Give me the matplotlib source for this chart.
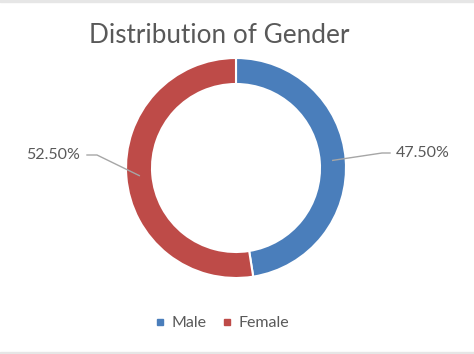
import numpy as np
import matplotlib as mpl
mpl.use('Agg')
import matplotlib.pyplot as plt
from matplotlib.lines import Line2D
from matplotlib.patches import Rectangle

genders = ['Male', 'Female']
shares = [47.5, 52.5]
colors = ['#4a7ebb', '#be4b48']
labels = ['47.50%', '52.50%']

plt.rcParams['font.family'] = ['Lato', 'DejaVu Sans']
txt = '#595959'

W, H = 474, 354
fig = plt.figure(figsize=(W / 100, H / 100), dpi=100)
ax = fig.add_axes([0, 0, 1, 1])

cx, cy, R, ring = 236, H - 168, 110, 26
ax.pie(shares, colors=colors, startangle=90, counterclock=False,
       radius=R, center=(cx, cy),
       wedgeprops=dict(width=ring, edgecolor='white', linewidth=1.5))
ax.set_xlim(0, W)
ax.set_ylim(0, H)
ax.set_aspect('auto')
ax.axis('off')

# leader lines + labels at each wedge's mid angle
cum = np.cumsum(shares)
total = cum[-1]
for i, lab in enumerate(labels):
    mid = np.deg2rad(90 - 360 * (cum[i] - shares[i] / 2) / total)
    r = R - ring / 2
    px, py = cx + r * np.cos(mid), cy + r * np.sin(mid)
    if np.cos(mid) > 0:
        ky = H - 153
        pts = [(px, py), (382, ky), (390, ky)]
        ax.text(396, ky, lab, ha='left', va='center', fontsize=11.5, color=txt)
    else:
        ky = H - 155
        pts = [(px, py), (97, ky), (87, ky)]
        ax.text(80, ky, lab, ha='right', va='center', fontsize=11.5, color=txt)
    xs, ys = zip(*pts)
    ax.plot(xs, ys, color='#a6a6a6', lw=1)

fig.text(219 / W, 1 - 43 / H, 'Distribution of Gender', ha='center',
         va='baseline', fontsize=18.8, color=txt)

handles = [Line2D([], [], marker='s', linestyle='none', markersize=5,
                  markerfacecolor=c, markeredgecolor=c) for c in colors]
fig.legend(handles, genders, loc='center', bbox_to_anchor=(222 / W, 1 - 323 / H),
           ncol=2, frameon=False, fontsize=11.5, labelcolor=txt,
           handlelength=0.6, handletextpad=0.4, columnspacing=1.0)

# thin grey frame strips at top and bottom
fig.patches.append(Rectangle((0, 1 - 1.5 / H), 1, 1.5 / H, transform=fig.transFigure,
                             color='#e6e6e6', zorder=0))
fig.patches.append(Rectangle((0, 0), 1, 2.5 / H, transform=fig.transFigure,
                             color='#e6e6e6', zorder=0))

fig.savefig('out.png', dpi=100)
